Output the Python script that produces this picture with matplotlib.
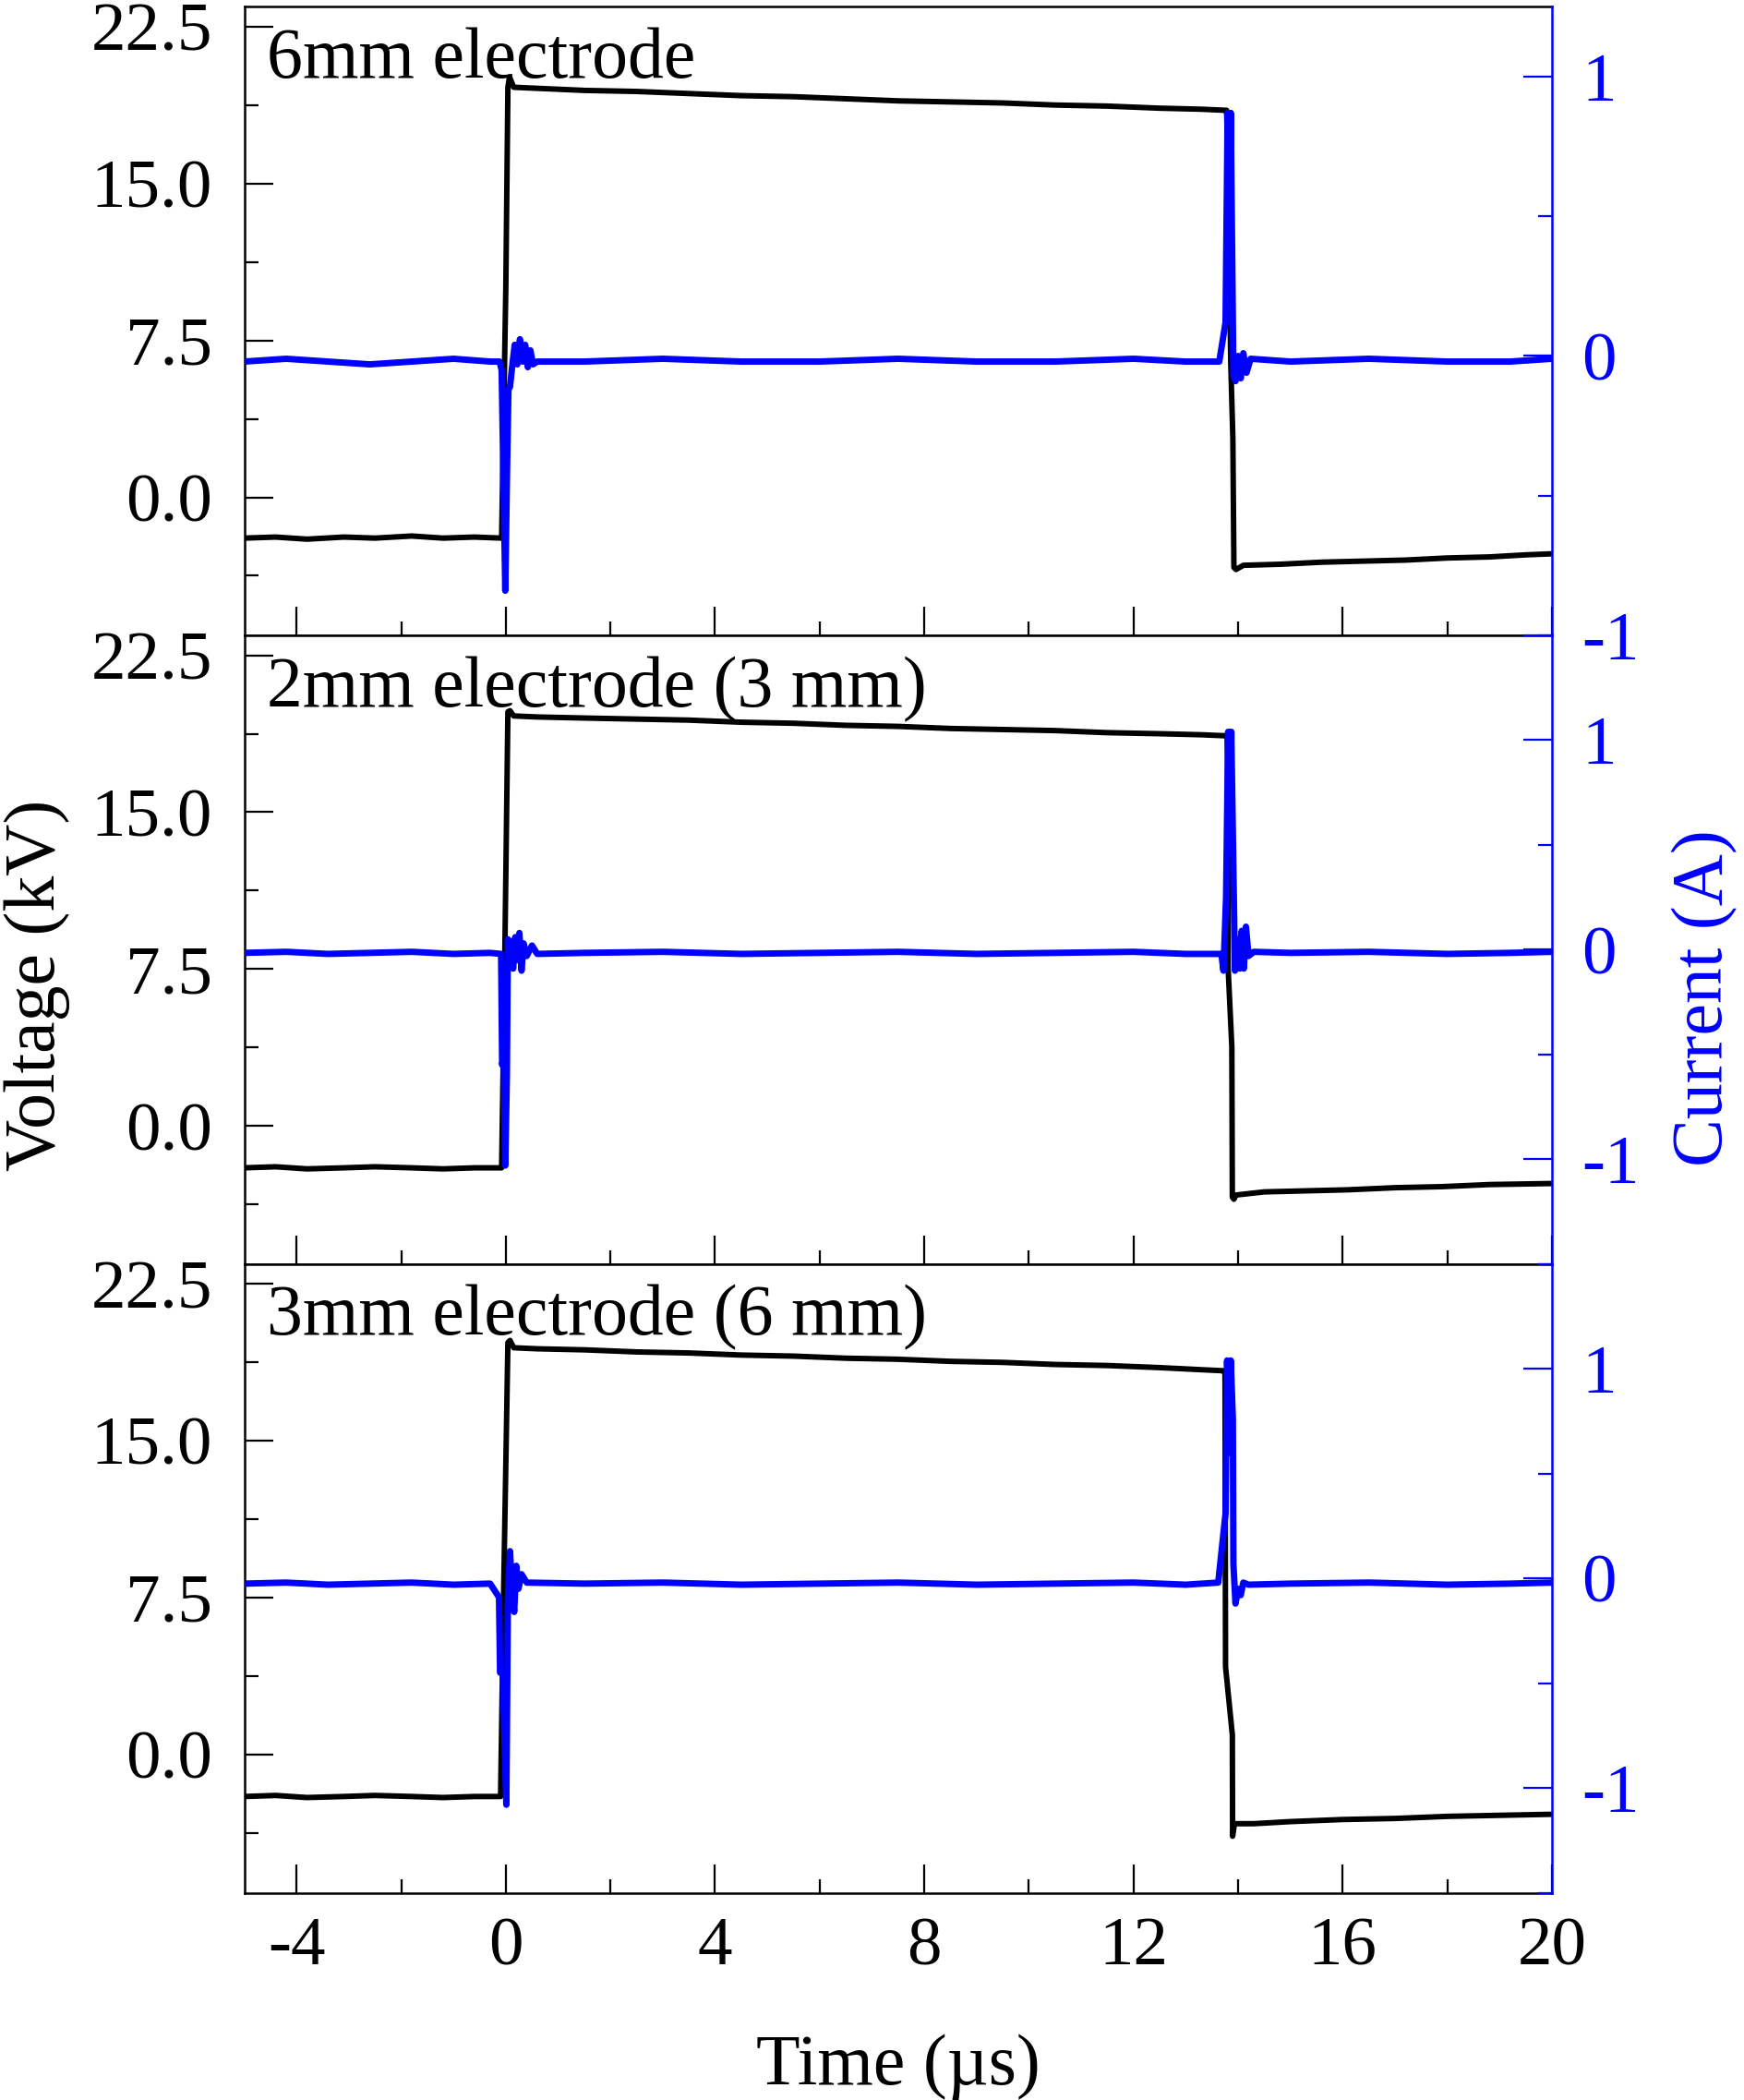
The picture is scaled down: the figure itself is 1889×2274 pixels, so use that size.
import matplotlib
matplotlib.use("Agg")
import matplotlib.pyplot as plt
from matplotlib.ticker import MultipleLocator, FuncFormatter

plt.rcParams['font.family'] = ['Liberation Serif', 'DejaVu Serif']
plt.rcParams['axes.unicode_minus'] = False

titles = ["6mm electrode", "2mm electrode (3 mm)", "3mm electrode (6 mm)"]

# ---- panel 1: voltage (kV) and current (A) vs time (us)
t_v1 = [-5.0, -4.4, -3.8, -3.1, -2.5, -1.8, -1.2, -0.6, -0.08, 0.0, 0.04, 0.07, 0.15, 0.6,
        1.5, 2.5, 3.5, 4.5, 5.5, 6.5, 7.5, 8.5, 9.5, 10.5, 11.5, 12.5, 13.3, 13.75,
        13.78, 13.79, 13.86, 13.9, 13.92, 13.96, 14.1, 14.8, 15.6, 16.4, 17.2, 18.0, 18.8, 19.5, 20.0]
v1 = [-1.95, -1.9, -2.0, -1.9, -1.95, -1.85, -1.95, -1.9, -1.95, 10.0, 19.6, 20.1, 19.6, 19.55,
      19.45, 19.4, 19.3, 19.2, 19.15, 19.05, 18.95, 18.9, 18.85, 18.75, 18.7, 18.6, 18.55, 18.5,
      18.5, 17.6, 6.4, 2.8, -3.35, -3.45, -3.25, -3.2, -3.1, -3.05, -3.0, -2.9, -2.85, -2.75, -2.7]
t_i1 = [-5.0, -4.2, -3.4, -2.6, -1.8, -1.0, -0.3,
        -0.12, -0.08, -0.04, -0.01, 0.02, 0.05, 0.08, 0.12,
        0.17, 0.22, 0.27, 0.32, 0.37, 0.42, 0.47, 0.52, 0.6,
        1.5, 3.0, 4.5, 6.0, 7.5, 9.0, 10.5, 12.0, 13.0,
        13.64, 13.76, 13.80, 13.83, 13.86, 13.91, 13.95, 14.0, 14.05, 14.1, 14.16, 14.24,
        15.0, 16.5, 18.0, 19.2, 20.0]
i1 = [-0.02, -0.01, -0.02, -0.03, -0.02, -0.01, -0.02,
      -0.02, -0.05, -0.5, -0.84, -0.45, -0.12, -0.11, -0.04,
      0.04, -0.03, 0.06, -0.02, 0.04, -0.04, 0.02, -0.03, -0.02,
      -0.02, -0.01, -0.02, -0.02, -0.01, -0.02, -0.02, -0.01, -0.02,
      -0.02, 0.12, 0.87, 0.5, 0.87, -0.07, -0.09, 0.0, -0.08, 0.01, -0.06, -0.01,
      -0.02, -0.01, -0.02, -0.02, -0.01]

# ---- panel 2
t_v2 = [-5.0, -4.4, -3.8, -3.1, -2.5, -1.8, -1.2, -0.6, -0.08, -0.02, 0.04, 0.08, 0.15, 0.6,
        1.5, 2.5, 3.5, 4.5, 5.5, 6.5, 7.5, 8.5, 9.5, 10.5, 11.5, 12.5, 13.3, 13.77,
        13.79, 13.80, 13.81, 13.88, 13.89, 13.92, 13.96, 14.5, 15.3, 16.1, 17.0, 17.9, 18.8, 20.0]
v2 = [-2.0, -1.95, -2.05, -2.0, -1.95, -2.0, -2.05, -2.0, -2.0, 8.0, 19.8, 19.85, 19.6, 19.55,
      19.5, 19.45, 19.4, 19.3, 19.25, 19.15, 19.1, 19.0, 18.95, 18.9, 18.8, 18.75, 18.7, 18.65,
      18.6, 17.5, 7.5, 3.8, -3.4, -3.5, -3.3, -3.15, -3.1, -3.05, -2.95, -2.9, -2.8, -2.75]
t_i2 = [-5.0, -4.2, -3.4, -2.6, -1.8, -1.0, -0.3,
        -0.09, -0.07, -0.04, -0.01, 0.02, 0.04, 0.06, 0.1,
        0.14, 0.18, 0.22, 0.26, 0.3, 0.34, 0.4, 0.5, 0.6,
        1.5, 3.0, 4.5, 6.0, 7.5, 9.0, 10.5, 12.0, 13.0,
        13.68, 13.72, 13.77, 13.81, 13.84, 13.87, 13.94, 13.98, 14.03, 14.07, 14.11, 14.15, 14.2, 14.3,
        15.0, 16.5, 18.0, 19.2, 20.0]
i2 = [-0.015, -0.01, -0.02, -0.015, -0.01, -0.02, -0.015,
      -0.02, -0.55, -0.5, -1.03, -0.6, 0.05, -0.08, 0.04,
      -0.09, 0.06, -0.05, 0.08, -0.1, 0.03, -0.03, 0.02, -0.02,
      -0.015, -0.01, -0.02, -0.015, -0.01, -0.02, -0.015, -0.01, -0.02,
      -0.02, -0.1, 0.25, 1.04, 0.5, 1.04, -0.1, 0.05, -0.09, 0.09, -0.09, 0.11, -0.03, -0.01,
      -0.015, -0.01, -0.02, -0.015, -0.01]

# ---- panel 3
t_v3 = [-5.0, -4.4, -3.8, -3.1, -2.5, -1.8, -1.2, -0.6, -0.1, -0.04, 0.04, 0.08, 0.15, 0.6,
        1.5, 2.5, 3.5, 4.5, 5.5, 6.5, 7.5, 8.5, 9.5, 10.5, 11.5, 12.5, 13.3, 13.72,
        13.75, 13.76, 13.89, 13.895, 13.93, 14.3, 15.0, 16.0, 17.0, 18.0, 19.0, 20.0]
v3 = [-2.0, -1.95, -2.05, -2.0, -1.95, -2.0, -2.05, -2.0, -2.0, 8.0, 19.7, 19.8, 19.45, 19.4,
      19.35, 19.25, 19.2, 19.1, 19.05, 18.95, 18.9, 18.8, 18.75, 18.65, 18.6, 18.5, 18.4, 18.35,
      18.2, 4.2, 0.95, -3.9, -3.3, -3.3, -3.2, -3.1, -3.05, -2.95, -2.9, -2.85]
t_i3 = [-5.0, -4.2, -3.4, -2.6, -1.8, -1.0, -0.3,
        -0.13, -0.11, -0.06, 0.01, 0.04, 0.08, 0.12, 0.16,
        0.2, 0.24, 0.3, 0.4,
        1.5, 3.0, 4.5, 6.0, 7.5, 9.0, 10.5, 12.0, 13.0,
        13.62, 13.76, 13.79, 13.83, 13.86, 13.90, 13.91, 13.95, 14.0, 14.05, 14.1, 14.2,
        15.0, 16.5, 18.0, 19.2, 20.0]
i3 = [-0.025, -0.02, -0.03, -0.025, -0.02, -0.03, -0.025,
      -0.09, -0.45, -0.45, -1.08, -0.1, 0.13, -0.05, -0.16,
      0.06, -0.05, 0.02, -0.02,
      -0.025, -0.02, -0.03, -0.025, -0.02, -0.03, -0.025, -0.02, -0.03,
      -0.02, 0.31, 1.04, 0.6, 1.04, 0.76, 0.07, -0.12, -0.05, -0.08, -0.02, -0.03,
      -0.025, -0.02, -0.03, -0.025, -0.02]

volt = [(t_v1, v1), (t_v2, v2), (t_v3, v3)]
curr = [(t_i1, i1), (t_i2, i2), (t_i3, i3)]
cur_lims = [(-1.0, 1.25), (-1.5, 1.5), (-1.5, 1.5)]


def fmt_v(x, pos):
    return "%.1f" % (round(x, 2) + 0.0)


def fmt_i(x, pos):
    return "%d" % int(round(x))


fig, axes = plt.subplots(3, 1, sharex=True, figsize=(18.9, 22.74), dpi=100)
fig.subplots_adjust(left=0.140, right=0.8894, bottom=0.0987, top=0.9968, hspace=0)

for k, ax in enumerate(axes):
    tv, vv = volt[k]
    ti, ii = curr[k]
    ax.plot(tv, vv, color='black', lw=4.3)
    ax.set_xlim(-5, 20)
    ax.set_ylim(-6.6, 23.45)
    ax.xaxis.set_major_locator(MultipleLocator(4))
    ax.xaxis.set_minor_locator(MultipleLocator(2))
    ax.yaxis.set_major_locator(MultipleLocator(7.5))
    ax.yaxis.set_minor_locator(MultipleLocator(3.75))
    ax.yaxis.set_major_formatter(FuncFormatter(fmt_v))
    ax.tick_params(which='both', direction='in', top=False, right=False,
                   width=1.6, labelsize=54)
    ax.tick_params(which='major', length=22)
    ax.tick_params(which='minor', length=11)
    ax.tick_params(axis='y', pad=25)
    ax.tick_params(axis='x', pad=19)
    for s in ax.spines.values():
        s.set_linewidth(1.8)
    ax.spines['right'].set_visible(False)
    ax.text(0.017, 0.887, titles[k], transform=ax.transAxes,
            fontsize=56, va='baseline', ha='left')

    ax2 = ax.twinx()
    ax2.plot(ti, ii, color='blue', lw=5.0)
    ax2.set_ylim(*cur_lims[k])
    ax2.yaxis.set_major_locator(MultipleLocator(1))
    ax2.yaxis.set_minor_locator(MultipleLocator(0.5))
    ax2.yaxis.set_major_formatter(FuncFormatter(fmt_i))
    ax2.tick_params(axis='y', which='both', direction='in', colors='blue',
                    width=1.6, labelsize=54, pad=23)
    ax2.tick_params(axis='y', which='major', length=22)
    ax2.tick_params(axis='y', which='minor', length=11)
    for name in ['left', 'top', 'bottom']:
        ax2.spines[name].set_visible(False)
    ax2.spines['right'].set_color('blue')
    ax2.spines['right'].set_linewidth(1.8)

# axis titles
fig.text(0.0215, 0.531, "Voltage (kV)", rotation=90, ha='center', va='center', fontsize=56)
fig.text(0.977, 0.525, "Current (A)", rotation=90, ha='center', va='center',
         fontsize=56, color='blue')
fig.text(0.5148, 0.0075, "Time (µs)", ha='center', va='baseline', fontsize=56)

fig.savefig("out.png", dpi=100)
